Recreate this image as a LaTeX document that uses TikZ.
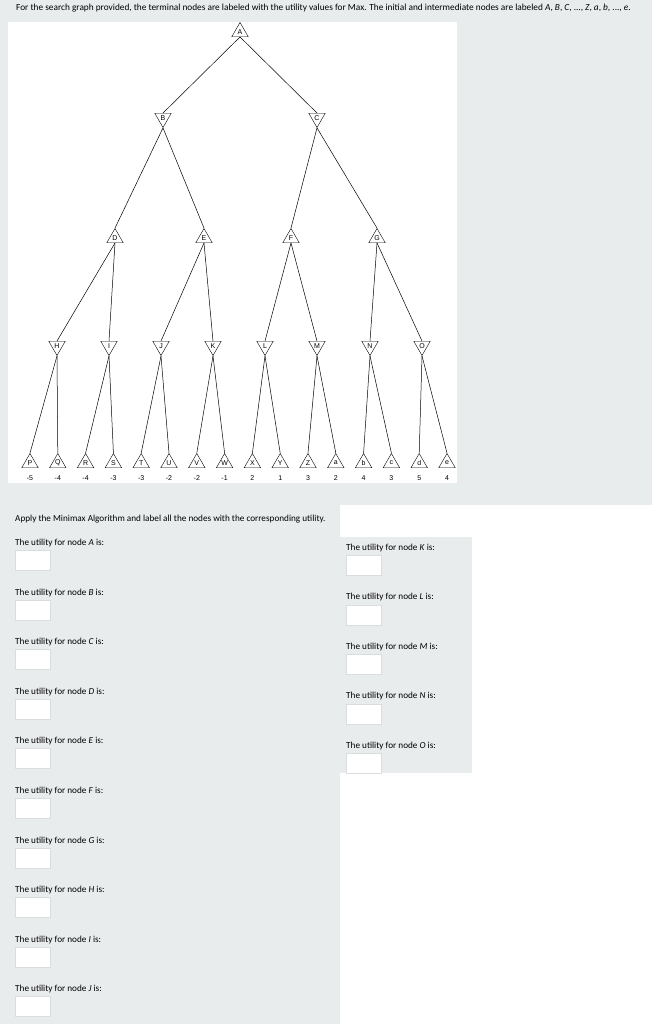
\documentclass[tikz,border=0pt]{standalone}
\usepackage{fontspec}
\setmainfont{Carlito}
\newfontfamily\arialf{Liberation Sans}
\usetikzlibrary{shapes.geometric}
\definecolor{bg}{HTML}{E9ECED}
\definecolor{boxline}{HTML}{DADDDE}
\begin{document}
\begin{tikzpicture}[x=1pt,y=-1pt,
  maxn/.style={regular polygon,regular polygon sides=3,draw,minimum size=19pt,inner sep=0pt,font=\arialf\fontsize{7}{8}\selectfont,fill=white},
  minn/.style={maxn,shape border rotate=180},
  val/.style={font=\arialf\fontsize{7}{8}\selectfont},
  qtext/.style={anchor=west,font=\fontsize{9.2}{10}\selectfont,inner sep=0pt},
  ansbox/.style={draw=boxline,fill=white,minimum width=35pt,minimum height=20pt,anchor=north west,inner sep=0pt},
  edge/.style={line width=0.5pt}]
\useasboundingbox (0,0) rectangle (652,1024);
\fill[bg] (0,0) rectangle (652,505);
\fill[bg] (0,505) rectangle (340,1024);
\fill[bg] (340,537) rectangle (472,773);
\fill[white] (8,22) rectangle (457,483);
\node[qtext,font=\fontsize{9.3}{10}\selectfont] (hdr) at (16,8) {For the search graph provided, the terminal nodes are labeled with the utility values for Max. The initial and intermediate nodes are labeled \textit{A}, \textit{B}, \textit{C}, ..., \textit{Z}, \textit{a}, \textit{b}, ..., \textit{e}.};
% tree
\node[maxn] (A) at (240,32) {A};
\node[minn] (B) at (163,118) {B};
\node[minn] (C) at (317,118) {C};
\node[maxn] (D) at (115,238) {D};
\node[maxn] (E) at (204,238) {E};
\node[maxn] (F) at (291,238) {F};
\node[maxn] (G) at (377,238) {G};
\foreach \n/\x in {H/57,I/109,J/161,K/213,L/265,M/317,N/370,O/422}
  \node[minn] (\n) at (\x,346) {\n};
\foreach \n/\v [count=\i from 0] in {P/-5,Q/-4,R/-4,S/-3,T/-3,U/-2,V/-2,W/-1,X/2,Y/1,Z/3,a/2,b/4,c/3,d/5,e/4}{
  \node[maxn] (l\n) at ({30+27.8*\i},463) {\n};
  \node[val] (v\n) at ({30+27.8*\i},478) {\v};
}
\foreach \p/\c in {A/B,A/C}
  \draw[edge] (\p.south) -- (\c.north);
\foreach \p/\c in {B/D,B/E,C/F,C/G}
  \draw[edge] (\p.south) -- (\c.north);
\foreach \p/\c in {D/H,D/I,E/J,E/K,F/L,F/M,G/N,G/O}
  \draw[edge] (\p.south) -- (\c.north);
\foreach \p/\c in {H/P,H/Q,I/R,I/S,J/T,J/U,K/V,K/W,L/X,L/Y,M/Z,M/a,N/b,N/c,O/d,O/e}
  \draw[edge] (\p.south) -- (l\c.north);
% questions
\node[qtext] (apply) at (15,519) {Apply the Minimax Algorithm and label all the nodes with the corresponding utility.};
\foreach \n [count=\i from 0] in {A,B,C,D,E,F,G,H,I,J}{
  \node[qtext] (q\n) at (15,{543+49.6*\i}) {The utility for node \textit{\n} is:};
  \node[ansbox] (b\n) at (15,{550+49.6*\i}) {};
}
\foreach \n [count=\i from 0] in {K,L,M,N,O}{
  \node[qtext] (q\n) at (346,{548+49.5*\i}) {The utility for node \textit{\n} is:};
  \node[ansbox] (b\n) at (346,{555+49.5*\i}) {};
}
\end{tikzpicture}
\end{document}
